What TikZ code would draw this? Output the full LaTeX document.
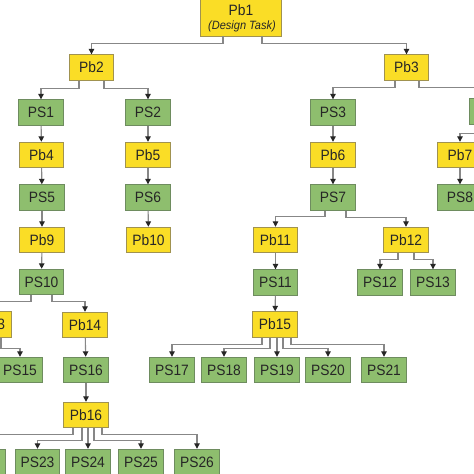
\documentclass[tikz,border=0pt]{standalone}
\usepackage{fontspec}
\newfontfamily\lab[FakeStretch=0.92]{Liberation Sans}
\usetikzlibrary{arrows.meta}
\definecolor{yfill}{RGB}{250,221,38}
\definecolor{ydraw}{RGB}{160,146,80}
\definecolor{gfill}{RGB}{142,190,110}
\definecolor{gdraw}{RGB}{110,140,95}
\definecolor{linec}{RGB}{135,135,135}
\definecolor{txt}{RGB}{38,38,38}
\tikzset{
  boxbase/.style={draw, line width=0.9pt, minimum width=44.5pt, minimum height=25.5pt, inner sep=0pt,
    font=\lab\fontsize{15}{16}\selectfont, text=txt},
  ybox/.style={boxbase, fill=yfill, draw=ydraw},
  gbox/.style={boxbase, fill=gfill, draw=gdraw},
  conn/.style={draw=linec, line width=1.1pt, -{Triangle[width=5.5pt,length=5.5pt,color=black!85]}},
}
\begin{document}
\begin{tikzpicture}[x=1pt,y=-1pt]
\useasboundingbox (0,0) rectangle (474,474);
\clip (0,0) rectangle (474,474);
\fill[white] (0,0) rectangle (474,474);
% yellow problem nodes
\node[ybox, minimum width=81pt, minimum height=38pt, align=center] (Pb1) at (241,17) {};
\node[text=txt, font=\lab\fontsize{15}{16}\selectfont] (Pb1t) at (241,10) {Pb1};
\node[text=txt, font=\lab\itshape\fontsize{12}{13}\selectfont] (Pb1s) at (242,26) {(Design Task)};
\node[ybox] (Pb2) at (91.5,67.5) {Pb2};
\node[ybox] (Pb3) at (406.5,67.5) {Pb3};
\node[ybox] (Pb4) at (41.5,155) {Pb4};
\node[ybox] (Pb5) at (148,155) {Pb5};
\node[ybox] (Pb6) at (333,155) {Pb6};
\node[ybox] (Pb7) at (460,155) {Pb7};
\node[ybox] (Pb9) at (42,240) {Pb9};
\node[ybox] (Pb10) at (148.5,240) {Pb10};
\node[ybox] (Pb11) at (275.5,240) {Pb11};
\node[ybox] (Pb12) at (406,240) {Pb12};
\node[ybox] (Pb13) at (-11,324.5) {Pb13};
\node[ybox] (Pb14) at (85,325) {Pb14};
\node[ybox] (Pb15) at (275,324.5) {Pb15};
\node[ybox] (Pb16) at (86,415) {Pb16};
% green solution nodes
\node[gbox] (PS1) at (41,112.5) {PS1};
\node[gbox] (PS2) at (148,112.5) {PS2};
\node[gbox] (PS3) at (333,112.5) {PS3};
\node[gbox] (PS4) at (492,111.5) {PS4};
\node[gbox] (PS5) at (42,197.5) {PS5};
\node[gbox] (PS6) at (148,197.5) {PS6};
\node[gbox] (PS7) at (333,197.5) {PS7};
\node[gbox] (PS8) at (460,197.5) {PS8};
\node[gbox] (PS10) at (41.5,282) {PS10};
\node[gbox] (PS11) at (275.5,282.5) {PS11};
\node[gbox] (PS12) at (380,282.5) {PS12};
\node[gbox] (PS13) at (433,282.5) {PS13};
\node[gbox] (PS15) at (20,370) {PS15};
\node[gbox] (PS16) at (86,370) {PS16};
\node[gbox] (PS17) at (172,370) {PS17};
\node[gbox] (PS18) at (224,370) {PS18};
\node[gbox] (PS19) at (277,370) {PS19};
\node[gbox] (PS20) at (328,370) {PS20};
\node[gbox] (PS21) at (384,370) {PS21};
\node[gbox] (PS22) at (-17,462) {PS22};
\node[gbox] (PS23) at (37.5,462) {PS23};
\node[gbox] (PS24) at (88,462) {PS24};
\node[gbox] (PS25) at (141,462) {PS25};
\node[gbox] (PS26) at (197,462) {PS26};
% branching connectors
\draw[conn] ([xshift=-18pt]Pb1.south) -- ++(0,7) -| (Pb2.north);
\draw[conn] ([xshift=21pt]Pb1.south) -- ++(0,7) -| (Pb3.north);
\draw[conn] ([xshift=-12.5pt]Pb2.south) -- ++(0,7.5) -| (PS1.north);
\draw[conn] ([xshift=12.5pt]Pb2.south) -- ++(0,7.5) -| (PS2.north);
\draw[conn] ([xshift=-11.5pt]Pb3.south) -- ++(0,7) -| (PS3.north);
\draw[conn] ([xshift=12.5pt]Pb3.south) -- ++(0,7) -| (PS4.north);
\draw[conn] ([xshift=-12pt]PS4.south) -- ++(0,8.5) -| (Pb7.north);
\draw[conn] ([xshift=-8pt]PS7.south) -- ++(0,6) -| (Pb11.north);
\draw[conn] ([xshift=13pt]PS7.south) -- ++(0,6.5) -| (Pb12.north);
\draw[conn] ([xshift=-8pt]Pb12.south) -- ++(0,6) -| (PS12.north);
\draw[conn] ([xshift=8pt]Pb12.south) -- ++(0,6) -| (PS13.north);
\draw[conn] ([xshift=-10.5pt]PS10.south) -- ++(0,6) -| (Pb13.north);
\draw[conn] ([xshift=10.5pt]PS10.south) -- ++(0,6) -| (Pb14.north);
\draw[conn] ([xshift=12pt]Pb13.south) -- ++(0,10.5) -| (PS15.north);
\draw[conn] ([xshift=-13pt]Pb15.south) -- ++(0,6.5) -| (PS17.north);
\draw[conn] ([xshift=-5pt]Pb15.south) -- ++(0,10.5) -| (PS18.north);
\draw[conn] ([xshift=2pt]Pb15.south) -- (PS19.north);
\draw[conn] ([xshift=8pt]Pb15.south) -- ++(0,10.5) -| (PS20.north);
\draw[conn] ([xshift=16pt]Pb15.south) -- ++(0,6.5) -| (PS21.north);
\draw[conn] ([xshift=-13pt]Pb16.south) -- ++(0,6) -| (PS22.north);
\draw[conn] ([xshift=-4pt]Pb16.south) -- ++(0,12) -| (PS23.north);
\draw[conn] ([xshift=2pt]Pb16.south) -- (PS24.north);
\draw[conn] ([xshift=8pt]Pb16.south) -- ++(0,12) -| (PS25.north);
\draw[conn] ([xshift=16pt]Pb16.south) -- ++(0,6) -| (PS26.north);
% straight connectors
\draw[conn] (PS1) -- (Pb4);
\draw[conn] (Pb4) -- (PS5);
\draw[conn] (PS5) -- (Pb9);
\draw[conn] (Pb9) -- (PS10);
\draw[conn] (PS2) -- (Pb5);
\draw[conn] (Pb5) -- (PS6);
\draw[conn] (PS6) -- (Pb10);
\draw[conn] (PS3) -- (Pb6);
\draw[conn] (Pb6) -- (PS7);
\draw[conn] (Pb7) -- (PS8);
\draw[conn] (Pb11) -- (PS11);
\draw[conn] (PS11) -- (Pb15);
\draw[conn] (Pb14) -- (PS16);
\draw[conn] (PS16) -- (Pb16);
\end{tikzpicture}
\end{document}
